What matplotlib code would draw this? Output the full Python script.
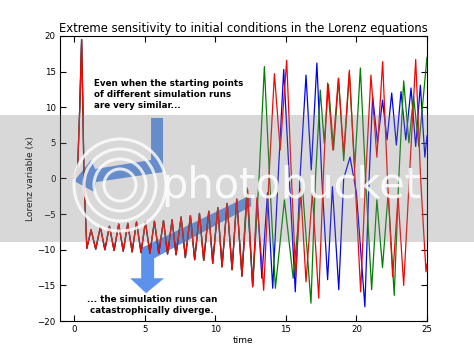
import numpy as np
import matplotlib
matplotlib.use("Agg")
import matplotlib.pyplot as plt
from matplotlib.patches import Polygon, Rectangle, Circle

# shared start of the three runs (before they split up)
t_common = [0.0, 0.25, 0.4, 0.53, 0.62, 0.7, 0.9, 1.2, 1.53, 1.86, 2.18, 2.5, 2.83,
            3.16, 3.48, 3.8, 4.11, 4.42, 4.74, 5.05, 5.37, 5.69, 6.0, 6.33, 6.62,
            6.94, 7.22, 7.58, 7.88, 8.24, 8.54, 8.88, 9.18, 9.54, 9.82, 10.18,
            10.48, 10.84, 11.19, 11.52, 11.89]
x_common = [0.0, 1.5, 10.0, 19.5, 10.0, 0.0, -9.8, -7.2, -9.9, -6.8, -10.0, -6.7,
            -10.1, -6.4, -10.2, -6.3, -10.3, -6.1, -10.4, -6.1, -10.5, -6.0, -10.5,
            -5.9, -10.6, -5.8, -10.7, -5.4, -11.1, -5.2, -11.4, -4.9, -11.5, -4.6,
            -11.9, -4.1, -12.4, -3.5, -12.8, -2.9, -13.7]

# after divergence
t_blue = [12.25, 12.65, 12.98, 13.3, 13.7, 14.07, 14.45, 14.85, 15.25, 15.67, 16.0,
          16.43, 16.8, 17.2, 17.55, 17.96, 18.3, 18.75, 19.1, 19.55, 20.0, 20.6,
          20.9, 21.15, 21.5, 21.85, 22.17, 22.5, 22.83, 23.16, 23.5, 23.87, 24.2,
          24.53, 24.85, 25.0]
x_blue = [-1.8, -15.0, -3.0, -14.0, -2.0, -15.4, 0.0, 15.3, 0.0, -15.9, 0.0, 14.5,
          1.2, 16.2, 0.0, -14.2, -1.15, -15.6, 0.0, 3.0, -2.0, -18.0, 0.0, 11.5,
          5.0, 11.0, 5.4, 12.0, 4.7, 12.2, 5.4, 12.7, 4.5, 13.1, 3.0, 6.0]

t_green = [12.25, 12.65, 13.1, 13.48, 13.85, 14.26, 14.9, 15.52, 16.15, 16.78, 17.1,
           17.44, 17.72, 18.02, 18.38, 18.74, 19.1, 19.5, 19.88, 20.28, 20.65,
           21.08, 21.45, 21.85, 22.25, 22.68, 23.0, 23.35, 23.72, 24.05, 24.42, 25.0]
x_green = [-1.3, -15.2, 0.0, 15.7, 0.0, -15.4, -3.0, -14.0, -0.5, -17.5, 0.0, 12.4,
           5.0, 13.2, 4.0, 14.0, 2.5, 14.8, 1.5, 15.5, 0.0, -15.6, -3.0, -12.5,
           -2.0, -16.4, 0.0, 13.7, 5.0, 11.5, 4.5, 17.0]

t_red = [12.3, 12.65, 12.95, 13.43, 13.8, 14.19, 14.6, 15.06, 15.4, 15.7, 16.05,
         16.43, 16.88, 17.33, 17.65, 17.96, 18.33, 18.72, 19.1, 19.5, 19.9, 20.3,
         20.65, 21.03, 21.45, 21.86, 22.2, 22.57, 22.95, 23.35, 23.75, 24.2, 24.55,
         24.93, 25.0]
x_red = [-1.6, -15.2, -2.7, -15.7, 0.0, 14.7, 4.0, 16.6, 0.0, -13.8, -1.5, -14.5,
         -2.0, -16.8, 0.0, 13.4, 4.0, 14.1, 3.5, 15.2, 0.0, -15.9, 0.0, 14.5, 3.0,
         16.4, 0.0, -13.8, -2.5, -15.0, 0.0, 16.7, 0.0, -13.1, -12.0]

xticks = [0, 5, 10, 15, 20, 25]
yticks = [-20, -15, -10, -5, 0, 5, 10, 15, 20]

fig = plt.figure(figsize=(4.74, 3.57), dpi=100)
ax = fig.add_axes([0.1266, 0.1008, 0.7742, 0.7984])

for tt, xx, c in [(t_blue, x_blue, 'b'), (t_green, x_green, 'g'), (t_red, x_red, 'r')]:
    ax.plot(t_common + tt, x_common + xx, color=c, lw=0.9, zorder=3)

ax.set_xlim(-1, 25)
ax.set_ylim(-20, 20)
ax.set_xticks(xticks)
ax.set_yticks(yticks)
ax.tick_params(direction='in', top=True, right=True, length=4, labelsize=6.2, pad=3)
ax.set_xlabel('time', fontsize=6.5, labelpad=1)
ax.set_ylabel('Lorenz variable (x)', fontsize=6.5, labelpad=2)
ax.set_title('Extreme sensitivity to initial conditions in the Lorenz equations',
             fontsize=8.4, pad=3)

# big blue arrows
arrow_col = '#3f7fe8'
arr1 = [(5.45, 8.5), (6.3, 8.5), (6.3, 0.9), (1.56, -0.5), (1.42, -1.9), (0.0, -0.35),
        (1.2, 2.6), (1.49, 1.33), (5.45, 2.6)]
arr2 = [(12.54, -2.3), (12.54, -3.9), (5.67, -11.2), (5.67, -14.0), (6.37, -14.0),
        (5.1, -16.1), (3.97, -14.0), (4.75, -14.0), (4.75, -9.75)]
for a in (arr1, arr2):
    ax.add_patch(Polygon(a, closed=True, facecolor=arrow_col, edgecolor='none',
                         alpha=0.85, zorder=2))

ax.text(1.42, 14.0, 'Even when the starting points\nof different simulation runs\nare very similar...',
        fontsize=6.3, fontweight='bold', va='top', ha='left', linespacing=1.3, zorder=4)
ax.text(5.5, -17.75, '... the simulation runs can\ncatastrophically diverge.',
        fontsize=6.3, fontweight='bold', va='center', ha='center', linespacing=1.3, zorder=4)

# watermark band
fig.add_artist(Rectangle((0, 0.322), 1, 0.356, transform=fig.transFigure,
                         facecolor='#808080', alpha=0.3, edgecolor='none', zorder=10))
for r in [0.16, 0.26, 0.36, 0.46]:
    fig.add_artist(Circle((1.2, 1.72), r, transform=fig.dpi_scale_trans, fill=False,
                          edgecolor='white', lw=2.2, alpha=0.8, zorder=11))
fig.text(0.615, 0.48, 'photobucket', fontsize=30, color='white', alpha=0.85,
         ha='center', va='center', zorder=12)

fig.savefig('out.png', dpi=100)
